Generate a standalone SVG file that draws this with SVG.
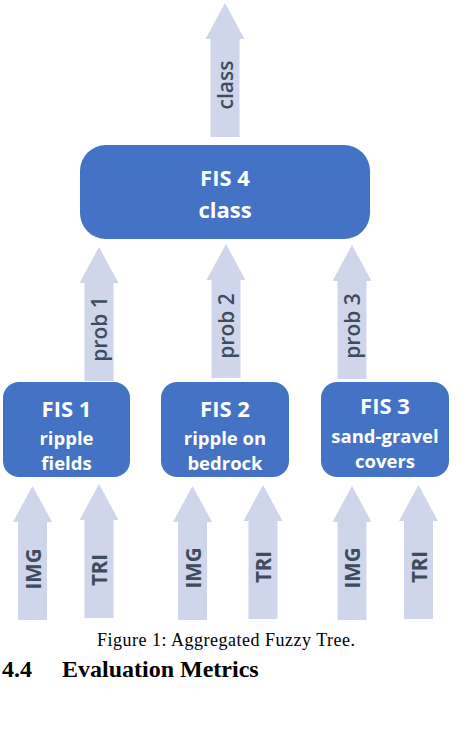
<svg xmlns="http://www.w3.org/2000/svg" xmlns:xlink="http://www.w3.org/1999/xlink" width="474" height="741" viewBox="0 0 474 741">
  <style>
    .arrow { fill: #CFD5EA; }
    .box { fill: #4472C4; }
    .boxT1 { font-family: "Open Sans", "Liberation Sans", sans-serif; font-weight: 700; font-size: 22px; fill: #FFFFFF; text-anchor: middle; }
    .boxT2 { font-family: "Open Sans", "Liberation Sans", sans-serif; font-weight: 700; font-size: 18.5px; fill: #FFFFFF; text-anchor: middle; }
    .lbl { font-family: "Open Sans", "Liberation Sans", sans-serif; font-weight: 600; font-size: 21px; fill: #3E4C60; text-anchor: middle; dominant-baseline: central; }
    .lblB { font-family: "Open Sans", "Liberation Sans", sans-serif; font-weight: 700; font-size: 20.5px; fill: #3E4C60; text-anchor: middle; dominant-baseline: central; }
    .cap { font-family: "Liberation Serif", "Times New Roman", serif; font-size: 18px; fill: #000000; }
    .head { font-family: "Liberation Serif", "Times New Roman", serif; font-weight: 700; font-size: 24px; fill: #000000; }
  </style>
  <defs>
    <path id="arr" d="M0,0 L19.5,36 L14.5,36 L14.5,134 L-14.5,134 L-14.5,36 L-19.5,36 Z"/>
  </defs>

  <g id="connectors">
    <!-- output -->
    <g id="c-class">
      <use xlink:href="#arr" class="arrow" x="225" y="3"/>
      <text class="lbl" transform="translate(225,85) rotate(-90)">class</text>
    </g>
    <!-- probabilities -->
    <g id="c-prob1">
      <use xlink:href="#arr" class="arrow" x="99" y="247"/>
      <text class="lbl" transform="translate(99,329) rotate(-90)">prob 1</text>
    </g>
    <g id="c-prob2">
      <use xlink:href="#arr" class="arrow" x="226" y="244"/>
      <text class="lbl" transform="translate(226,326) rotate(-90)">prob 2</text>
    </g>
    <g id="c-prob3">
      <use xlink:href="#arr" class="arrow" x="352" y="245"/>
      <text class="lbl" transform="translate(352,326) rotate(-90)">prob 3</text>
    </g>
    <!-- inputs -->
    <g id="c-img1">
      <use xlink:href="#arr" class="arrow" x="32.5" y="486"/>
      <text class="lblB" transform="translate(32.5,569) rotate(-90)">IMG</text>
    </g>
    <g id="c-tri1">
      <use xlink:href="#arr" class="arrow" x="99" y="484"/>
      <text class="lblB" transform="translate(99,570) rotate(-90)">TRI</text>
    </g>
    <g id="c-img2">
      <use xlink:href="#arr" class="arrow" x="192.5" y="486"/>
      <text class="lblB" transform="translate(192.5,568) rotate(-90)">IMG</text>
    </g>
    <g id="c-tri2">
      <use xlink:href="#arr" class="arrow" x="263" y="485"/>
      <text class="lblB" transform="translate(263,567) rotate(-90)">TRI</text>
    </g>
    <g id="c-img3">
      <use xlink:href="#arr" class="arrow" x="352" y="486"/>
      <text class="lblB" transform="translate(352,568) rotate(-90)">IMG</text>
    </g>
    <g id="c-tri3">
      <use xlink:href="#arr" class="arrow" x="418.5" y="485"/>
      <text class="lblB" transform="translate(418.5,567) rotate(-90)">TRI</text>
    </g>
  </g>

  <g id="fis4">
    <rect class="box" x="80" y="145" width="290" height="94" rx="26" ry="26"/>
    <text class="boxT1" x="225" y="186">FIS 4</text>
    <text class="boxT1" x="225" y="218">class</text>
  </g>

  <g id="fis1">
    <rect class="box" x="3" y="382" width="127" height="95" rx="16" ry="16"/>
    <text class="boxT1" x="66.5" y="417">FIS 1</text>
    <text class="boxT2" x="66.5" y="445">ripple</text>
    <text class="boxT2" x="66.5" y="470">fields</text>
  </g>

  <g id="fis2">
    <rect class="box" x="161" y="382" width="128" height="95" rx="16" ry="16"/>
    <text class="boxT1" x="225" y="417">FIS 2</text>
    <text class="boxT2" x="225" y="445">ripple on</text>
    <text class="boxT2" x="225" y="470">bedrock</text>
  </g>

  <g id="fis3">
    <rect class="box" x="321" y="382" width="128" height="95" rx="16" ry="16"/>
    <text class="boxT1" x="385" y="414">FIS 3</text>
    <text class="boxT2" x="385" y="443">sand-gravel</text>
    <text class="boxT2" x="385" y="468">covers</text>
  </g>

  <g id="caption">
    <text class="cap" x="97" y="646" textLength="258" lengthAdjust="spacing">Figure 1: Aggregated Fuzzy Tree.</text>
  </g>
  <g id="heading">
    <text class="head" x="2" y="677">4.4</text>
    <text class="head" x="62" y="677">Evaluation Metrics</text>
  </g>
</svg>
